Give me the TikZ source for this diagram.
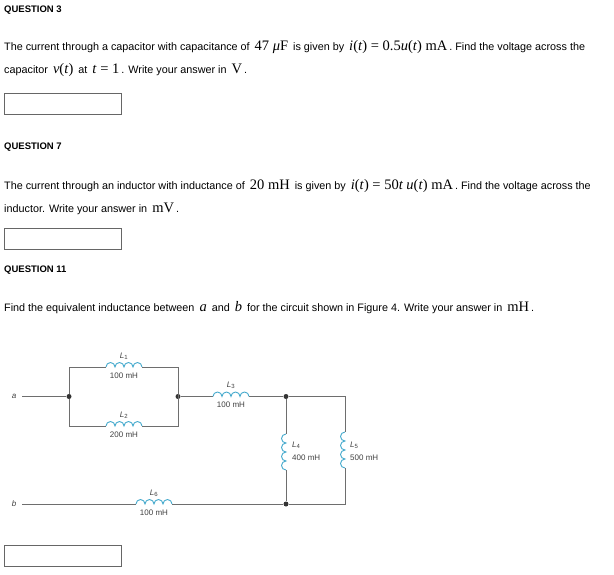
\documentclass[tikz,border=0pt]{standalone}
\usepackage{fontspec}
\setmainfont{Liberation Sans}
\newfontfamily\mfont{Liberation Serif}
\definecolor{coil}{RGB}{70,170,205}
\definecolor{wire}{RGB}{110,110,110}
\begin{document}
\begin{tikzpicture}[x=1pt,y=-1pt,
 txt/.style={anchor=west,inner sep=0pt,font=\fontsize{10.8}{12}\selectfont},
 hd/.style={anchor=west,inner sep=0pt,font=\fontsize{9.5}{11}\selectfont\bfseries},
 ans/.style={draw=black!60,minimum width=117pt,minimum height=21pt,anchor=north west,inner sep=0pt},
 lbl/.style={inner sep=0pt,font=\fontsize{8}{9}\selectfont,text=black!75},
 w/.style={draw=wire,line width=0.8pt},
 cl/.style={draw=coil,line width=0.9pt},
 dot/.style={circle,fill=black!80,inner sep=0pt,minimum size=5pt}]
\useasboundingbox (0,0) rectangle (614,574);
\newcommand{\mm}[1]{\hspace{2pt}{\mfont\fontsize{14.5}{15}\selectfont #1}\hspace{2pt}}
\node[hd] (q3) at (4,10) {QUESTION 3};
\node[txt] (t1) at (4,47) {The current through a capacitor with capacitance of \mm{47 \textit{μ}F} is given by \mm{\textit{i}(\textit{t}) = 0.5\textit{u}(\textit{t}) mA}. Find the voltage across the};
\node[txt] (t2) at (4,70) {capacitor \mm{\textit{v}(\textit{t})} at \mm{\textit{t} = 1}. Write your answer in \mm{V}.};
\node[ans] (b1) at (4,93) {};
\node[hd] (q7) at (4,147) {QUESTION 7};
\node[txt] (t3) at (4,186) {The current through an inductor with inductance of \mm{20 mH} is given by \mm{\textit{i}(\textit{t}) = 50\textit{t u}(\textit{t}) mA}. Find the voltage across the};
\node[txt] (t4) at (4,209) {inductor. Write your answer in \mm{mV}.};
\node[ans] (b2) at (4,228) {};
\node[hd] (q11) at (4,270) {QUESTION 11};
\node[txt] (t5) at (4,308) {Find the equivalent inductance between \mm{\textit{a}} and \mm{\textit{b}} for the circuit shown in Figure 4. Write your answer in \mm{mH}.};
\node[ans] (b3) at (4,545) {};
% circuit coordinates
\coordinate (a) at (22,396.5);
\node[dot] (j1) at (69,396.5) {};
\node[dot] (j2) at (178,396.5) {};
\node[dot] (j3) at (286,396.5) {};
\node[dot] (j4) at (286,504) {};
\coordinate (tl) at (69,367); \coordinate (tr) at (178,367);
\coordinate (bl) at (69,426); \coordinate (br) at (178,426);
\coordinate (c5t) at (345,396.5); \coordinate (c5b) at (345,504);
\coordinate (b) at (22,504);
\node[lbl] at (14,396.5) {\textit{a}};
\node[lbl] at (14,504) {\textit{b}};
% wires
\draw[w] (a) -- (j1) (j1) |- (tl) -- (106,367) (142,367) -- (tr) |- (j2);
\draw[w] (j1) |- (bl) -- (106,426) (142,426) -- (br) |- (j2);
\draw[w] (j2) -- (213,396.5) (249,396.5) -- (j3) -- (c5t) -- (345,432);
\draw[w] (j3) -- (286,434) (286,470) -- (j4);
\draw[w] (345,468) -- (c5b) -- (j4) -- (172,504) (136,504) -- (b);
% coils
\foreach \x/\y in {106/367,106/426,213/396.5,136/504}
  \draw[cl] (\x,\y) foreach \i in {0,...,3} {arc[start angle=180,end angle=360,radius=4.5]};
\foreach \x/\y in {286/434,345/432}
  \draw[cl] (\x,\y) foreach \i in {0,...,3} {arc[start angle=-90,end angle=-270,radius=4.5]};
% labels
\node[lbl] at (124,356) {\textit{L}\textsubscript{1}};
\node[lbl] at (124,376) {100 mH};
\node[lbl] at (124,415) {\textit{L}\textsubscript{2}};
\node[lbl] at (124,435) {200 mH};
\node[lbl] at (231,385) {\textit{L}\textsubscript{3}};
\node[lbl] at (231,405) {100 mH};
\node[lbl] at (154,493) {\textit{L}\textsubscript{6}};
\node[lbl] at (154,513) {100 mH};
\node[lbl,anchor=west] at (292,445) {\textit{L}\textsubscript{4}};
\node[lbl,anchor=west] at (292,458) {400 mH};
\node[lbl,anchor=west] at (350,445) {\textit{L}\textsubscript{5}};
\node[lbl,anchor=west] at (350,458) {500 mH};
\end{tikzpicture}
\end{document}
